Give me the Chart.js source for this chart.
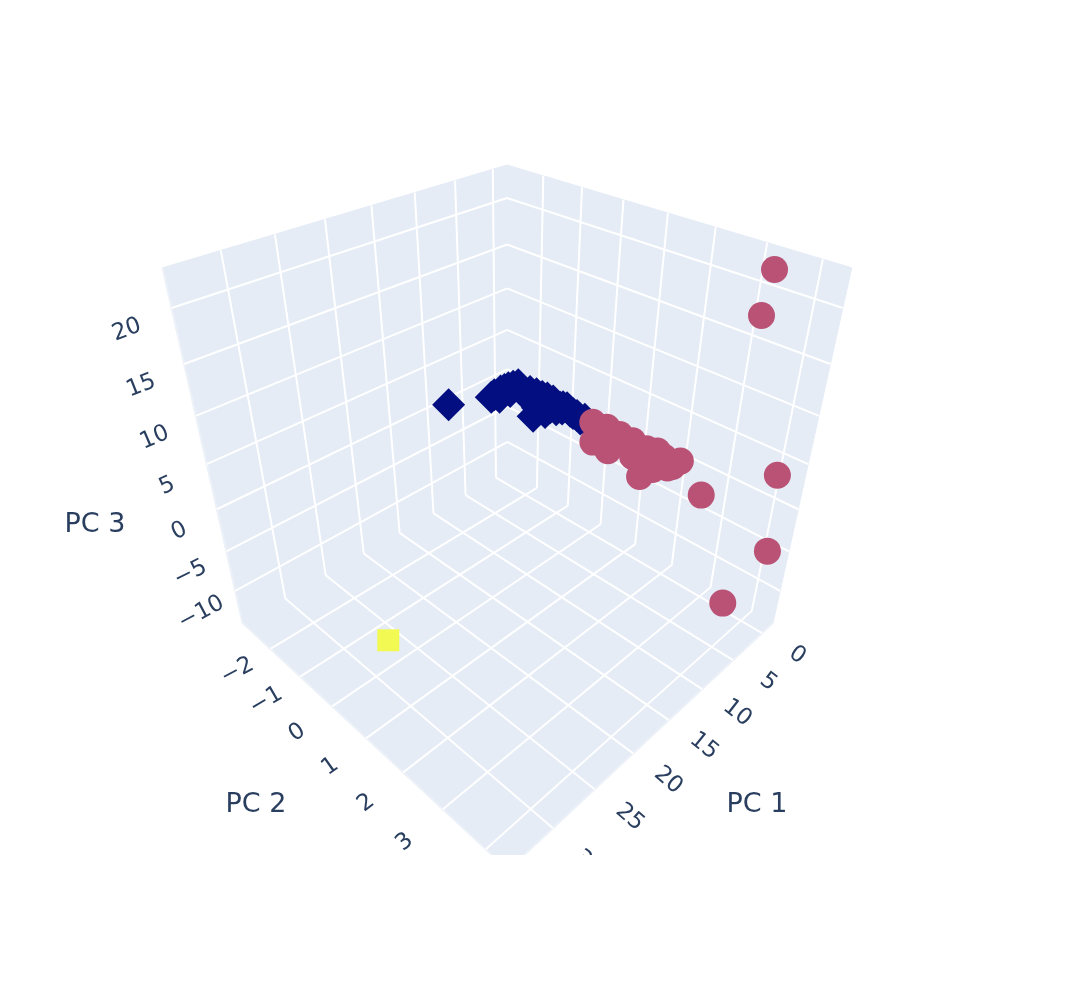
<!DOCTYPE html>
<html>
<head>
<meta charset="utf-8">
<title>PCA 3D</title>
<script src="https://cdn.jsdelivr.net/npm/chart.js@4/dist/chart.umd.js"></script>
<style>
  html, body { margin: 0; background: #fff; }
  canvas { display: block; }
</style>
</head>
<body>
<canvas id="chart" width="1088" height="1004"></canvas>
<script>
// Axis ticks and ranges
const pc1Ticks = [0, 5, 10, 15, 20, 25, 30];
const pc2Ticks = [-2, -1, 0, 1, 2, 3, 4];
const pc3Ticks = [-10, -5, 0, 5, 10, 15, 20];
const pc1Range = [-1.97, 34.97];
const pc2Range = [-3, 4.49];
const pc3Range = [-14.31, 23.37];

// Series values (depth along the view direction can't be read off the picture)
const navyPc1 = [8, 8, 8, 8, 8, 8, 8, 8, 8, 8, 8, 8, 8, 8, 8, 8, 8, 8, 8, 8, 8, 8, 8, 8, 8, 8, 8, 8, 8, 8, 8, 8, 8, 8];
const navyPc2 = [-2.77, -1.44, -1.2, -1.17, -0.95, -0.68, -0.9, -0.49, -0.36, -0.22, -0.04, 0.24, 0.74, -0.27, 0.04, 0.32, 0.59, 0.84, 0.04, 0.42, 1.03, -1.35, -1.06, -0.82, 0.49, 0.92, 1.17, -0.19, 0.09, -0.09, 0.17, 0.47, 0.67, -0.16];
const navyPc3 = [0, 3.7, 4.2, 5, 5.8, 6.7, 5.5, 6, 6.6, 6, 6.7, 6.8, 6.5, 4, 5.1, 6, 6.8, 6.5, 6, 6.5, 6.5, 4.2, 5.4, 6.25, 6.7, 6.3, 6.2, 6.7, 6.8, 5.4, 5.9, 6.4, 6.6, 5.2];

const pinkPc1 = [8, 8, 8, 8, 8, 8, 8, 8, 8, 8, 8, 8, 8, 8, 8, 8, 8, 8, 8, 8, 8, 8, 8, 1, 1, 1, 1, 1];
const pinkPc2 = [1.22, 1.25, 1.61, 2.36, 3.16, 2.68, 2.92, 2.62, 1.85, 1.55, 2.14, 2.45, 2.31, 1.93, 2.17, 2.48, 3.02, 1.63, 1.67, 2.75, 2.83, 2.33, 3.65, 3.53, 3.44, 4.25, 4.35, 3.65];
const pinkPc3 = [6.6, 4.5, 4.4, 3.4, 7, 6.9, 5.7, 4.8, 6.7, 6.8, 6.7, 6.6, 6.2, 6.1, 5.1, 5.2, 6.1, 6, 5.2, 5.9, 6.6, 4.8, 4.7, 22.7, 18.6, 4.7, -3.6, -12.4];

const yellowPc1 = [33];
const yellowPc2 = [1.39];
const yellowPc3 = [-2.4];

// Camera: screen position of the box corners, and perspective weights
const origin = [507.5, 471];
const cornerA = [242.5, 623], cornerB = [773, 623], cornerC = [507, 165];
const wa = 0.8077, wb = 0.8077, wc = 0.814;

// Vertical nudge for the PC 1 tick labels, the last one sits half under the clip
const pc1LabelDy = [22, 22, 24, 26, 27, 28, 36];

function project(p1, p2, p3) {
  const u = (p1 - pc1Range[0]) / (pc1Range[1] - pc1Range[0]);
  const v = (p2 - pc2Range[0]) / (pc2Range[1] - pc2Range[0]);
  const w = (p3 - pc3Range[0]) / (pc3Range[1] - pc3Range[0]);
  const d = 1 + u * (wa - 1) + v * (wb - 1) + w * (wc - 1);
  return {
    x: (origin[0] + u * (wa * cornerA[0] - origin[0]) + v * (wb * cornerB[0] - origin[0]) + w * (wc * cornerC[0] - origin[0])) / d,
    y: (origin[1] + u * (wa * cornerA[1] - origin[1]) + v * (wb * cornerB[1] - origin[1]) + w * (wc * cornerC[1] - origin[1])) / d
  };
}

const series = (a, b, c) => a.map((p, i) => project(p, b[i], c[i]));
const [x0, x1] = pc1Range, [y0, y1] = pc2Range, [z0, z1] = pc3Range;

// Grid lines on the two back walls and the floor
const gridPts = [];
function seg(p, q) { gridPts.push(project(...p), project(...q), { x: null, y: null }); }
pc1Ticks.forEach(t => { seg([t, y0, z0], [t, y0, z1]); seg([t, y0, z0], [t, y1, z0]); });
pc2Ticks.forEach(t => { seg([x0, t, z0], [x0, t, z1]); seg([x0, t, z0], [x1, t, z0]); });
pc3Ticks.forEach(t => { seg([x0, y0, t], [x1, y0, t]); seg([x0, y0, t], [x0, y1, t]); });

function wallDataset(corners) {
  return {
    data: corners.map(r => project(...r)),
    showLine: true,
    fill: 'shape',
    backgroundColor: '#e5ecf6',
    borderColor: '#e5ecf6',
    borderWidth: 1,
    pointRadius: 0,
    order: 9
  };
}

// Rotated tick labels and axis titles
const tickLabels = {
  id: 'tickLabels',
  afterDraw(chart) {
    const { ctx, scales } = chart;
    const put = (text, pos, dx, dy, rot) => {
      ctx.save();
      ctx.translate(scales.x.getPixelForValue(pos.x) + dx, scales.y.getPixelForValue(pos.y) + dy);
      ctx.rotate(rot * Math.PI / 180);
      ctx.font = '23px "DejaVu Sans"';
      ctx.fillStyle = '#2a3f5f';
      ctx.textAlign = 'center';
      ctx.textBaseline = 'middle';
      ctx.fillText(text, 0, 0);
      ctx.restore();
    };
    const minus = t => String(t).replace('-', '\u2212');
    ctx.save();
    ctx.beginPath();
    ctx.rect(0, 0, 1088, 855);
    ctx.clip();
    pc1Ticks.forEach((t, i) => put(minus(t), project(t, y1, z0), 35, pc1LabelDy[i], 36 + i));
    pc2Ticks.forEach((t, i) => put(minus(t), project(x1, t, z0), -33 - i, 22 + i * 2.2, -28 - i * 2.4));
    pc3Ticks.forEach((t, i) => put(minus(t), project(x1, y0, t), -34 - i * 1.8, 22, -28 + i * 1.3));
    ctx.restore();
    ctx.font = '27px "DejaVu Sans"';
    ctx.fillStyle = '#2a3f5f';
    ctx.textAlign = 'center';
    ctx.textBaseline = 'middle';
    ctx.fillText('PC 1', 757, 805);
    ctx.fillText('PC 2', 256, 805);
    ctx.fillText('PC 3', 95, 525);
  }
};

new Chart(document.getElementById('chart'), {
  type: 'scatter',
  data: {
    datasets: [
      { data: series(pinkPc1, pinkPc2, pinkPc3), pointStyle: 'circle', pointRadius: 13.5, backgroundColor: 'rgb(186,82,118)', borderWidth: 0, order: 1 },
      { data: series(yellowPc1, yellowPc2, yellowPc3), pointStyle: 'rect', pointRadius: 15.56, backgroundColor: 'rgb(241,249,82)', borderWidth: 0, order: 2 },
      { data: series(navyPc1, navyPc2, navyPc3), pointStyle: 'rectRot', pointRadius: 16.5, backgroundColor: 'rgb(3,14,128)', borderWidth: 0, order: 3 },
      { data: gridPts, showLine: true, borderColor: '#ffffff', borderWidth: 2, pointRadius: 0, order: 5 },
      { data: [[x1, y0, z1], [x1, y0, z0], [x1, y1, z0], [x0, y1, z0]].map(r => project(...r)), showLine: true, borderColor: '#edf1f8', borderWidth: 2, pointRadius: 0, order: 6 },
      wallDataset([[x0, y0, z0], [x1, y0, z0], [x1, y0, z1], [x0, y0, z1], [x0, y0, z0]]),
      wallDataset([[x0, y0, z0], [x0, y1, z0], [x0, y1, z1], [x0, y0, z1], [x0, y0, z0]]),
      wallDataset([[x0, y0, z0], [x1, y0, z0], [x1, y1, z0], [x0, y1, z0], [x0, y0, z0]])
    ]
  },
  options: {
    responsive: false,
    animation: false,
    layout: { autoPadding: false, padding: { bottom: 149 } },
    plugins: { legend: { display: false }, tooltip: { enabled: false } },
    scales: {
      x: { type: 'linear', min: 0, max: 1088, display: false },
      y: { type: 'linear', min: 0, max: 855, reverse: true, display: false }
    }
  },
  plugins: [tickLabels]
});
</script>
</body>
</html>
